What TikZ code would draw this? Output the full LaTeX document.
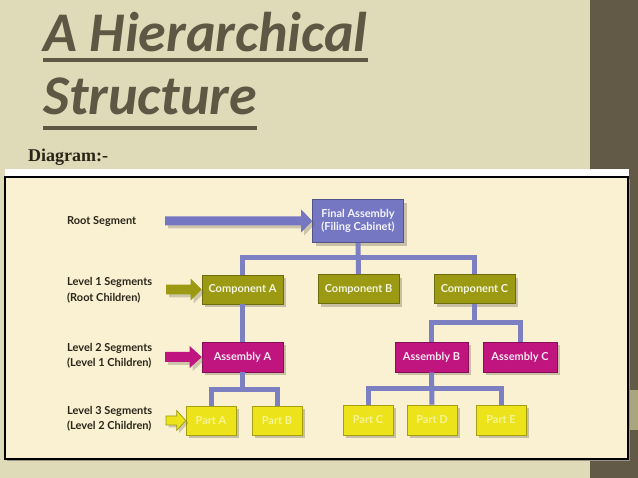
\documentclass[tikz,border=0pt]{standalone}
\usepackage{fontspec}
\usetikzlibrary{calc,shadows}
\newfontfamily\titlefont{Carlito}
\newfontfamily\dgfont{Liberation Serif}
\newfontfamily\labfont{Lato}
\definecolor{slidebg}{HTML}{DFDAB7}
\definecolor{darkstrip}{HTML}{625A46}
\definecolor{lightblock}{HTML}{AAA47F}
\definecolor{titlec}{HTML}{5D5744}
\definecolor{framefill}{HTML}{FAF1D3}
\definecolor{labc}{HTML}{2A2518}
\definecolor{boxblue}{HTML}{7577C3}
\definecolor{linec}{HTML}{7C7FC2}
\definecolor{boxolive}{HTML}{9C9A12}
\definecolor{boxmag}{HTML}{C0147E}
\definecolor{boxyel}{HTML}{ECE31A}
\definecolor{shadowc}{HTML}{6B6450}
\newcommand\blkarrow[7]{%
  \path[#6] let \p1=(#1), \p2=(#2) in
    (\x1+#7pt,\y2+#4pt-#7pt) -- (\x2-#3pt+#7pt,\y2+#4pt-#7pt) --
    (\x2-#3pt+#7pt,\y2+#5pt-#7pt) -- (\x2+#7pt,\y2-#7pt) --
    (\x2-#3pt+#7pt,\y2-#5pt-#7pt) -- (\x2-#3pt+#7pt,\y2-#4pt-#7pt) --
    (\x1+#7pt,\y2-#4pt-#7pt) -- cycle;}
\tikzset{
  box/.style={rectangle, inner sep=0pt, align=center, line width=0.6pt,
    font=\labfont\bfseries\fontsize{11}{13.5}\selectfont,
    drop shadow={shadow xshift=3pt, shadow yshift=-3.5pt, opacity=0.35, fill=shadowc}},
  bluebox/.style={box, fill=boxblue, draw=boxblue!70!black, text=white!92!boxblue},
  olivebox/.style={box, fill=boxolive, draw=boxolive!70!black, text=white!88!boxolive},
  magbox/.style={box, fill=boxmag, draw=boxmag!70!black, text=white!90!boxmag},
  yelbox/.style={box, fill=boxyel, draw=boxyel!70!black, text=white!55!boxyel},
  link/.style={draw=linec, line width=5pt, line join=miter},
  lab/.style={anchor=west, align=left, inner sep=0pt, text=labc,
    font=\labfont\bfseries\fontsize{11}{15.5}\selectfont},
  ttl/.style={anchor=base west, inner sep=0pt, text=titlec,
    font=\titlefont\bfseries\itshape\fontsize{56}{56}\selectfont},
  ul/.style={draw=titlec, line width=3.4pt}
}
\begin{document}
\begin{tikzpicture}[x=1pt,y=-1pt]
\useasboundingbox (0,0) rectangle (638,478);
% slide background
\fill[slidebg] (0,0) rectangle (638,478);
\fill[darkstrip] (590,0) rectangle (638,478);
\fill[lightblock] (628,390) rectangle (638,430);
% title
\node[ttl] (t1) at (43,52) {A Hierarchical};
\node[ttl] (t2) at (43,115) {Structure};
\draw[ul] ([yshift=-8pt]t1.base west) -- ([yshift=-8pt]t1.base east);
\draw[ul] ([yshift=-13pt]t2.base west) -- ([yshift=-13pt]t2.base east);
\node[anchor=base west, inner sep=0pt, text=labc,
  font=\dgfont\bfseries\fontsize{18}{20}\selectfont] (dg) at (28,162) {Diagram:-};
% frame
\fill[white] (5,169) rectangle (629,177);
\fill[shadowc!70] (7,179) rectangle (630,461);
\filldraw[fill=framefill, draw=black, line width=1.5pt] (5,177) rectangle (628,459);
% boxes
\node[bluebox, minimum width=91pt, minimum height=43pt] (fa) at (358,221) {Final Assembly\\(Filing Cabinet)};
\node[olivebox, minimum width=81pt, minimum height=29pt] (ca) at (242.5,289.5) {Component A};
\node[olivebox, minimum width=81pt, minimum height=29pt] (cb) at (358.5,289) {Component B};
\node[olivebox, minimum width=81pt, minimum height=29pt] (cc) at (474.5,289) {Component C};
\node[magbox, minimum width=81pt, minimum height=30pt] (aa) at (242.5,357) {Assembly A};
\node[magbox, minimum width=73pt, minimum height=30pt] (ab) at (431.5,357) {Assembly B};
\node[magbox, minimum width=74pt, minimum height=30pt] (ac) at (520,357) {Assembly C};
\node[yelbox, minimum width=50pt, minimum height=29pt] (pa) at (211,420.5) {Part A};
\node[yelbox, minimum width=50pt, minimum height=29pt] (pb) at (277,420.5) {Part B};
\node[yelbox, minimum width=50pt, minimum height=30pt] (pc) at (368,420) {Part C};
\node[yelbox, minimum width=50pt, minimum height=30pt] (pd) at (432,420) {Part D};
\node[yelbox, minimum width=50pt, minimum height=30pt] (pe) at (501,420) {Part E};
% bus coordinates
\coordinate (b1) at (358,258);
\coordinate (b2) at (474.5,323);
\coordinate (b3) at (242.5,390);
\coordinate (b4) at (432,389);
% connectors
\draw[link] (fa.south) -- (cb.north);
\draw[link] (ca.north) |- (b1) -| (cc.north);
\draw[link] (ca.south) -- (aa.north);
\draw[link] (cc.south) -- (b2);
\draw[link] (ab.north) |- (b2) -| (ac.north);
\draw[link] (aa.south) -- (b3);
\draw[link] (pa.north) |- (b3) -| (pb.north);
\draw[link] (ab.south) -- (pd.north);
\draw[link] (pc.north) |- (b4) -| (pe.north);
% labels
\node[lab] (l0) at (67,221) {Root Segment};
\node[lab] (l1) at (67,290.5) {Level 1 Segments\\(Root Children)};
\node[lab] (l2) at (67,356) {Level 2 Segments\\(Level 1 Children)};
\node[lab] (l3) at (67,419) {Level 3 Segments\\(Level 2 Children)};
% block arrows
\coordinate (r0) at (165,221);
\coordinate (r1) at (166,289.5);
\coordinate (r2) at (165,357);
\coordinate (r3) at (166,420.5);
\blkarrow{r0}{fa.west}{11}{4.5}{11.5}{fill=shadowc,opacity=.3}{3}
\blkarrow{r0}{fa.west}{11}{4.5}{11.5}{fill=boxblue}{0}
\blkarrow{r1}{ca.west}{11}{4.8}{11}{fill=shadowc,opacity=.3}{3}
\blkarrow{r1}{ca.west}{11}{4.8}{11}{fill=boxolive}{0}
\blkarrow{r2}{aa.west}{12}{5}{11}{fill=shadowc,opacity=.3}{3}
\blkarrow{r2}{aa.west}{12}{5}{11}{fill=boxmag}{0}
\blkarrow{r3}{pa.west}{9}{4.5}{10}{fill=shadowc,opacity=.3}{2.5}
\blkarrow{r3}{pa.west}{9}{4.5}{10}{fill=boxyel,draw=boxolive,line width=0.7pt}{0}
\end{tikzpicture}
\end{document}
